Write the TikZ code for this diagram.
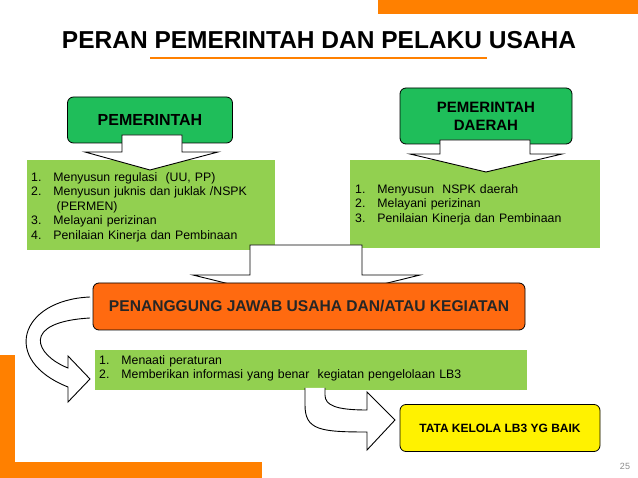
\documentclass[tikz,border=0pt]{standalone}
\usepackage{fontspec}
\setmainfont{Liberation Sans}
\begin{document}
\begin{tikzpicture}[x=1pt,y=-1pt,
  barrow/.style={fill=white,draw=black,line width=0.9pt,line join=miter},
  itemtxt/.style={font=\fontsize{12.3}{14.6}\selectfont,align=left,anchor=north west,text width=#1,inner sep=0pt},
  hdr/.style={rounded corners=6pt,draw=black,line width=0.8pt,font=\bfseries,align=center}]
\definecolor{lgr}{HTML}{92D050}
\definecolor{dgr}{HTML}{1FBE5A}
\definecolor{org}{HTML}{FF8000}
\definecolor{org2}{HTML}{FF6A10}
\useasboundingbox (0,0) rectangle (638,478);
\fill[white] (0,0) rectangle (638,478);
% decorative bars
\fill[org] (378,0) rectangle (638,14);
\fill[org] (0,355) rectangle (15,478);
\fill[org] (0,462) rectangle (262,478);
% title
\node (title) at (319,40) {\fontsize{24.5}{28}\selectfont\bfseries PERAN PEMERINTAH DAN PELAKU USAHA};
\draw[org,line width=2pt] (150,58) -- (487,58);
% left list
\fill[lgr] (27,160) rectangle (275,250);
\node[itemtxt=245pt] (l1) at (31,172) {1.\hspace{12pt}Menyusun regulasi\ \ (UU, PP)\\
2.\hspace{12pt}Menyusun juknis dan juklak /NSPK\\\hspace{25.5pt}(PERMEN)\\
3.\hspace{12pt}Melayani perizinan\\
4.\hspace{12pt}Penilaian Kinerja dan Pembinaan};
% right list
\fill[lgr] (350,160) rectangle (600,248);
\node[itemtxt=245pt] (l2) at (355,184) {1.\hspace{12pt}Menyusun\ \ NSPK daerah\\
2.\hspace{12pt}Melayani perizinan\\
3.\hspace{12pt}Penilaian Kinerja dan Pembinaan};
% header boxes
\node[hdr,fill=dgr,minimum width=165pt,minimum height=46pt,font=\fontsize{16}{18}\selectfont\bfseries] (pem) at (150,120) {PEMERINTAH};
\node[hdr,fill=dgr,minimum width=172pt,minimum height=56pt,font=\fontsize{15}{18}\selectfont\bfseries] (pemd) at (486,116) {PEMERINTAH\\DAERAH};
% arrows down from headers
\draw[barrow] (122,135) -- (182,135) -- (182,152) -- (218,152) -- (150,170) -- (85,152) -- (122,152) -- cycle;
\draw[barrow] (440,140) -- (530,140) -- (530,154) -- (562,154) -- (486,172) -- (410,154) -- (440,154) -- cycle;
% big arrow
\draw[barrow] (250,245) -- (362,245) -- (362,275) -- (420,275) -- (306,303) -- (193,275) -- (250,275) -- cycle;
% orange box
\node[hdr,fill=org2,minimum width=432pt,minimum height=47pt,font=\fontsize{15.6}{19}\selectfont\bfseries,text=black!85] (pj) at (309,306.5) {PENANGGUNG JAWAB USAHA DAN/ATAU KEGIATAN};
% curved arrow left
\begin{scope}
\path[fill=white] (90,297) .. controls (20,300) and (0,360) .. (68,387) -- (68,402) -- (90,379) -- (68,356) -- (68,368) .. controls (35,355) and (20,322) .. (90,318) -- cycle;
\clip (0,290) rectangle (100,332);
\fill[black!20] (90,297) .. controls (20,300) and (0,360) .. (68,387) -- (68,368) .. controls (35,355) and (20,322) .. (90,318) -- cycle;
\end{scope}
\draw[barrow] (90,297) .. controls (20,300) and (0,360) .. (68,387) -- (68,402) -- (90,379) -- (68,356) -- (68,368) .. controls (35,355) and (20,322) .. (90,318);
% bottom list
\fill[lgr] (95,350) rectangle (527,390);
\node[itemtxt=425pt] (l3) at (99,355) {1.\hspace{12pt}Menaati peraturan\\
2.\hspace{12pt}Memberikan informasi yang benar\ \ kegiatan pengelolaan LB3};
% arrow to yellow
\draw[barrow] (305,388) -- (305,405) .. controls (305,430) and (320,432) .. (367,432) -- (367,450) -- (395,420) -- (367,392) -- (367,410) .. controls (335,410) and (325,405) .. (325,395) -- (325,388);
% yellow box
\node[hdr,fill=yellow,minimum width=200pt,minimum height=47pt,font=\fontsize{12}{14}\selectfont\bfseries] (tk) at (500,428) {TATA KELOLA LB3 YG BAIK};
\node[text=black!45,font=\fontsize{9}{10}\selectfont] (pg) at (625,466) {25};
\end{tikzpicture}
\end{document}
